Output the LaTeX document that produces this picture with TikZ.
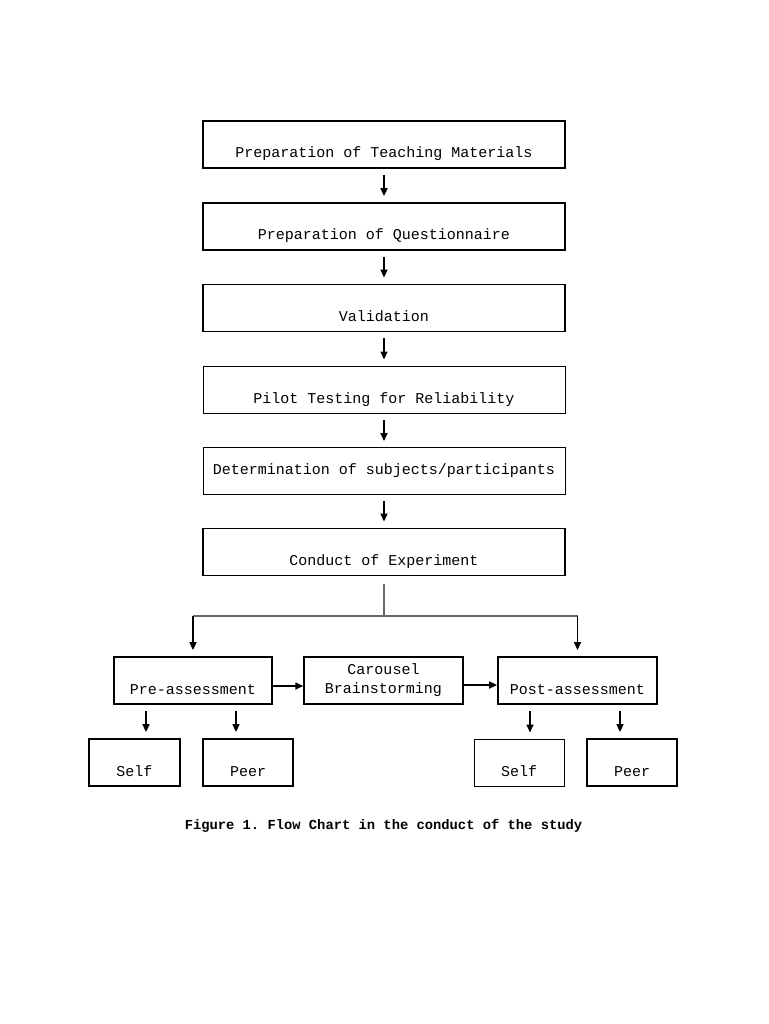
\documentclass[tikz,border=0pt]{standalone}
\usepackage{fontspec}
\setmonofont{Liberation Mono}
\usetikzlibrary{arrows.meta}
\tikzset{
  box/.style={draw, line width=1.8pt, inner sep=0pt, minimum height=47pt,
    text height=37pt, text depth=10pt, font=\ttfamily\fontsize{15}{19}\selectfont},
  thinbox/.style={box, line width=1pt},
  arr/.style={line width=1.6pt, -{Triangle[length=8pt,width=7pt]}},
  harr/.style={line width=1.6pt, -{Triangle[length=8pt,width=7pt]}},
  graylink/.style={line width=1.2pt, draw=black!60},
}
\begin{document}
\begin{tikzpicture}[x=1pt,y=-1pt]
\useasboundingbox (0,0) rectangle (768,1024);
\fill[white] (0,0) rectangle (768,1024);

\node[box, minimum width=362pt] (b1) at (384,144.5) {Preparation of Teaching Materials};
\node[box, minimum width=362pt] (b2) at (384,226.5) {Preparation of Questionnaire};
\node[box, minimum width=362pt] (b3) at (384,308) {Validation};
\node[thinbox, minimum width=362pt] (b4) at (384,389.5) {Pilot Testing for Reliability};
\node[thinbox, minimum width=362pt, text height=27pt, text depth=20pt] (b5) at (384,471) {Determination of subjects/participants};
\node[box, minimum width=362pt] (b6) at (384,552) {Conduct of Experiment};

\foreach \a/\b in {b1/b2,b2/b3,b3/b4,b4/b5,b5/b6}
  \draw[arr, shorten <=6pt, shorten >=6pt] (\a.south) -- (\b.north);

\node[box, minimum width=158pt] (pre) at (193,680.5) {Pre-assessment};
\node[draw, line width=1.5pt, inner sep=0pt, minimum width=159pt, minimum height=47pt, align=center,
  font=\ttfamily\fontsize{15}{19}\selectfont] (car) at (383.5,680.5) {Carousel\\Brainstorming};
\node[box, minimum width=159pt] (post) at (577.5,680.5) {Post-assessment};

\coordinate (j) at (384,616);
\draw[graylink] ([yshift=-8pt]b6.south) -- (j);
\coordinate (jl) at (pre.north |- j);
\coordinate (jr) at (post.north |- j);
\draw[graylink] (jl) -- (jr);
\draw[arr, shorten >=6pt] (jl) -- (pre.north);
\draw[arr, shorten >=6pt] (jr) -- (post.north);

\draw[harr] ([yshift=-5.5pt]pre.east) -- ([yshift=-5.5pt]car.west);
\draw[harr] ([yshift=-4.5pt]car.east) -- ([yshift=-4.5pt]post.west);

\node[box, minimum width=91pt] (sl) at (134.5,762.5) {Self};
\node[box, minimum width=90pt] (pl) at (248,762.5) {Peer};
\node[thinbox, minimum width=90pt] (sr) at (519,762.5) {Self};
\node[box, minimum width=90pt] (pr) at (632,762.5) {Peer};

\coordinate (p1) at ([xshift=-47pt]pre.south);
\coordinate (p2) at ([xshift=43pt]pre.south);
\coordinate (q1) at ([xshift=-47.5pt]post.south);
\coordinate (q2) at ([xshift=42.5pt]post.south);
\draw[arr, shorten <=6pt, shorten >=6pt] (p1) -- (p1 |- sl.north);
\draw[arr, shorten <=6pt, shorten >=6pt] (p2) -- (p2 |- pl.north);
\draw[arr, shorten <=6pt, shorten >=6pt] (q1) -- (q1 |- sr.north);
\draw[arr, shorten <=6pt, shorten >=6pt] (q2) -- (q2 |- pr.north);

\node[font=\ttfamily\bfseries\fontsize{13.8}{16}\selectfont] (cap) at (383.5,826) {Figure 1. Flow Chart in the conduct of the study};
\end{tikzpicture}
\end{document}
